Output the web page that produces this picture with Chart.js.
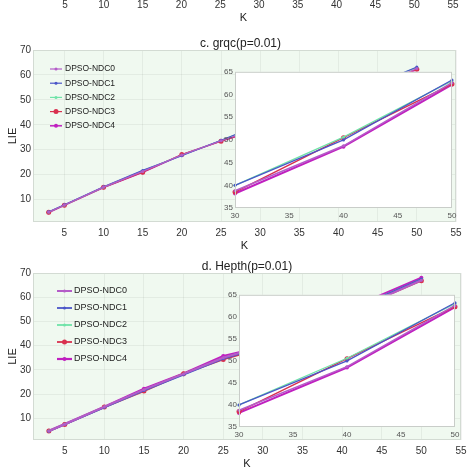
<!DOCTYPE html>
<html>
<head>
<meta charset="utf-8">
<script src="https://cdn.jsdelivr.net/npm/chart.js@4.4.0/dist/chart.umd.min.js"></script>
<style>
  body { margin: 0; background: #fff; }
  #wrap { position: relative; width: 474px; height: 474px; overflow: hidden; }
  canvas { position: absolute; }
</style>
</head>
<body>
<div id="wrap">
  <canvas id="topAxis" width="474" height="67" style="left:0;top:-40px"></canvas>
  <canvas id="grqcMain" width="474" height="221" style="left:0;top:34px"></canvas>
  <canvas id="grqcZoom" width="245" height="157" style="left:215px;top:65px"></canvas>
  <canvas id="hepthMain" width="474" height="215" style="left:0;top:258px"></canvas>
  <canvas id="hepthZoom" width="244" height="153" style="left:219px;top:288px"></canvas>
</div>
<script>
// series names + colours
const seriesNames = ['DPSO-NDC0', 'DPSO-NDC1', 'DPSO-NDC2', 'DPSO-NDC3', 'DPSO-NDC4'];
const seriesColors = ['#b45cc8', '#4a55c8', '#6fe3a8', '#d9304f', '#c020c0'];

// K values
const kMain = [3, 5, 10, 15, 20, 25, 30, 40, 50];
const kZoom = [30, 40, 50];

// tick labels
const xTicksMain = [5, 10, 15, 20, 25, 30, 35, 40, 45, 50, 55];
const yTicksMain = [10, 20, 30, 40, 50, 60, 70];
const xTicksZoom = [30, 35, 40, 45, 50];
const yTicksZoom = [35, 40, 45, 50, 55, 60, 65];

// c. grqc, one row per series (NDC0..NDC4)
const grqcSeries = [
  [5.0, 7.8, 15.0, 21.3, 27.9, 33.6, 38.8, 48.7, 62.6],
  [5.1, 7.9, 15.1, 21.7, 27.6, 33.8, 40.0, 50.0, 63.2],
  [5.0, 7.8, 15.0, 21.5, 27.8, 33.7, 40.0, 50.6, 63.0],
  [4.9, 7.7, 14.9, 21.0, 28.1, 33.4, 38.5, 50.5, 62.3],
  [4.8, 7.7, 14.8, 20.9, 28.0, 33.5, 38.2, 48.5, 62.2]
];

// d. Hepth
const hepthSeries = [
  [4.7, 7.5, 14.7, 21.8, 28.3, 35.0, 39.8, 52.5, 67.0],
  [4.6, 7.4, 14.5, 21.5, 28.0, 34.6, 39.5, 53.0, 67.5],
  [4.7, 7.5, 14.6, 21.6, 28.2, 34.8, 39.8, 53.2, 67.4],
  [4.7, 7.4, 14.6, 21.2, 28.4, 34.3, 38.9, 52.8, 66.8],
  [4.8, 7.6, 14.7, 22.2, 28.5, 35.7, 39.5, 54.0, 68.0]
];

// inset (same picture in both panels)
const zoomSeries = [
  [38.8, 48.7, 62.6],
  [40.0, 50.0, 63.2],
  [40.0, 50.6, 63.0],
  [38.5, 50.5, 62.3],
  [38.2, 48.5, 62.2]
];

const FONT = "'Liberation Sans', Arial, Helvetica, sans-serif";
Chart.defaults.font.family = FONT;
Chart.defaults.color = '#333';

// plot area fill + box
const plotBox = {
  id: 'plotBox',
  beforeDraw(chart, args, o) {
    const { ctx, chartArea: a } = chart;
    if (o.fill) {
      ctx.save();
      ctx.fillStyle = o.fill;
      ctx.fillRect(a.left, a.top, a.right - a.left, a.bottom - a.top);
      ctx.restore();
    }
  },
  afterDraw(chart, args, o) {
    if (!o.stroke) return;
    const { ctx, chartArea: a } = chart;
    ctx.save();
    ctx.strokeStyle = o.stroke;
    ctx.lineWidth = 1;
    ctx.strokeRect(a.left + 0.5, a.top + 0.5, a.right - a.left - 1, a.bottom - a.top - 1);
    ctx.restore();
  }
};

const panelTitle = {
  id: 'panelTitle',
  afterDraw(chart, args, o) {
    if (!o.text) return;
    const { ctx, chartArea: a } = chart;
    ctx.save();
    ctx.font = o.size + 'px ' + FONT;
    ctx.fillStyle = '#222';
    ctx.textAlign = 'center';
    ctx.textBaseline = 'middle';
    ctx.fillText(o.text, (a.left + a.right) / 2 + o.dx, a.top + o.dy);
    ctx.restore();
  }
};

// legend drawn inside the plot, top-left, no box
const insideLegend = {
  id: 'insideLegend',
  afterDatasetsDraw(chart, args, o) {
    if (!o.show) return;
    const { ctx, chartArea: a } = chart;
    ctx.save();
    ctx.font = o.size + 'px ' + FONT;
    ctx.textBaseline = 'middle';
    ctx.textAlign = 'left';
    chart.data.datasets.forEach((ds, i) => {
      const x = a.left + o.left;
      const y = a.top + o.top + i * o.gap;
      ctx.strokeStyle = ds.borderColor;
      ctx.lineWidth = ds.borderWidth;
      ctx.beginPath();
      ctx.moveTo(x, y);
      ctx.lineTo(x + o.len, y);
      ctx.stroke();
      ctx.fillStyle = ds.borderColor;
      ctx.beginPath();
      ctx.arc(x + o.len / 2, y, ds.pointRadius, 0, Math.PI * 2);
      ctx.fill();
      ctx.fillStyle = '#222';
      ctx.fillText(ds.label, x + o.len + o.textGap, y);
    });
    ctx.restore();
  }
};

function makeDatasets(kVals, series, widths, radii) {
  return series.map((vals, i) => ({
    label: seriesNames[i],
    data: kVals.map((k, j) => ({ x: k, y: vals[j] })),
    borderColor: seriesColors[i],
    backgroundColor: seriesColors[i],
    borderWidth: widths[i],
    pointRadius: radii[i],
    pointBorderWidth: 0,
    pointHoverRadius: 0,
    tension: 0,
    clip: false
  }));
}

function mainChart(id, series, o) {
  return new Chart(document.getElementById(id), {
    type: 'line',
    data: { datasets: makeDatasets(kMain, series, o.widths, o.radii) },
    options: {
      responsive: false,
      animation: false,
      events: [],
      layout: { padding: o.pad },
      scales: {
        x: {
          type: 'linear', min: 1, max: 55,
          afterBuildTicks: s => { s.ticks = xTicksMain.map(v => ({ value: v })); },
          afterFit: s => { s.height = 33; },
          grid: { color: 'rgba(0,0,0,0.05)', drawTicks: false },
          border: { display: false },
          ticks: { padding: 5, font: { size: 10 }, color: '#333', maxRotation: 0 },
          title: { display: true, text: 'K', font: { size: 11 }, color: '#222', padding: { top: 0, bottom: 2 } }
        },
        y: {
          min: 1, max: 70,
          afterBuildTicks: s => { s.ticks = yTicksMain.map(v => ({ value: v })); },
          afterFit: s => { s.width = 33; },
          grid: { color: 'rgba(0,0,0,0.05)', drawTicks: false },
          border: { display: false },
          ticks: { padding: 2, font: { size: 10 }, color: '#333' },
          title: { display: true, text: 'LIE', font: { size: 11 }, color: '#222', padding: { top: 6, bottom: 0 } }
        }
      },
      plugins: {
        legend: { display: false },
        tooltip: { enabled: false },
        plotBox: { fill: '#f0f9f0', stroke: '#d3dbd3' },
        panelTitle: { text: o.title, size: 12, dx: o.titleDx, dy: -6 },
        insideLegend: Object.assign({ show: true }, o.legend)
      }
    },
    plugins: [plotBox, panelTitle, insideLegend]
  });
}

function zoomChart(id, o) {
  return new Chart(document.getElementById(id), {
    type: 'line',
    data: { datasets: makeDatasets(kZoom, zoomSeries, o.widths, o.radii) },
    options: {
      responsive: false,
      animation: false,
      events: [],
      layout: { padding: { top: 6, right: 8, left: 0, bottom: 0 } },
      scales: {
        x: {
          type: 'linear', min: 30, max: 50,
          afterBuildTicks: s => { s.ticks = xTicksZoom.map(v => ({ value: v })); },
          afterFit: s => { s.height = 14; },
          grid: { display: false, drawTicks: false },
          border: { display: false },
          ticks: { padding: 3, font: { size: 8 }, color: '#555', maxRotation: 0 }
        },
        y: {
          min: 35, max: 65,
          afterBuildTicks: s => { s.ticks = yTicksZoom.map(v => ({ value: v })); },
          afterFit: s => { s.width = 20; },
          grid: { display: false, drawTicks: false },
          border: { display: false },
          ticks: { padding: 2, font: { size: 8 }, color: '#555' }
        }
      },
      plugins: {
        legend: { display: false },
        tooltip: { enabled: false },
        plotBox: { fill: '#ffffff', stroke: '#c9cdc9' }
      }
    },
    plugins: [plotBox]
  });
}

// x axis left over from the panel above
new Chart(document.getElementById('topAxis'), {
  type: 'line',
  data: { datasets: [] },
  options: {
    responsive: false,
    animation: false,
    events: [],
    layout: { padding: { top: 10, left: 34, right: 21, bottom: 0 } },
    scales: {
      x: {
        type: 'linear', min: 1, max: 55,
        afterBuildTicks: s => { s.ticks = xTicksMain.map(v => ({ value: v })); },
        afterFit: s => { s.height = 33; },
        grid: { display: false, drawTicks: false },
        border: { display: false },
        ticks: { padding: 5, font: { size: 10 }, color: '#333', maxRotation: 0 },
        title: { display: true, text: 'K', font: { size: 11 }, color: '#222', padding: { top: 0, bottom: 2 } }
      },
      y: { display: false, min: 0, max: 1 }
    },
    plugins: { legend: { display: false }, tooltip: { enabled: false } }
  }
});

mainChart('grqcMain', grqcSeries, {
  title: 'c. grqc(p=0.01)',
  titleDx: -4,
  pad: { top: 16, right: 18, left: 0, bottom: 0 },
  widths: [1.2, 1.2, 1.2, 1.2, 1.5],
  radii: [1.5, 1.5, 1.5, 2.5, 2],
  legend: { left: 17, top: 19, gap: 14.2, len: 12, textGap: 3, size: 8.5 }
});
zoomChart('grqcZoom', { widths: [1.5, 1.3, 1.3, 1.5, 2], radii: [1.5, 1.5, 1.5, 2.5, 2] });

mainChart('hepthMain', hepthSeries, {
  title: 'd. Hepth(p=0.01)',
  titleDx: 0,
  pad: { top: 15, right: 13, left: 0, bottom: 0 },
  widths: [2, 1.8, 1.8, 1.8, 2.2],
  radii: [1.5, 1.5, 1.5, 2.5, 2],
  legend: { left: 24, top: 18, gap: 17, len: 15, textGap: 2, size: 9 }
});
zoomChart('hepthZoom', { widths: [1.5, 1.3, 1.3, 1.5, 2], radii: [1.5, 1.5, 1.5, 2.5, 2] });
</script>
</body>
</html>
